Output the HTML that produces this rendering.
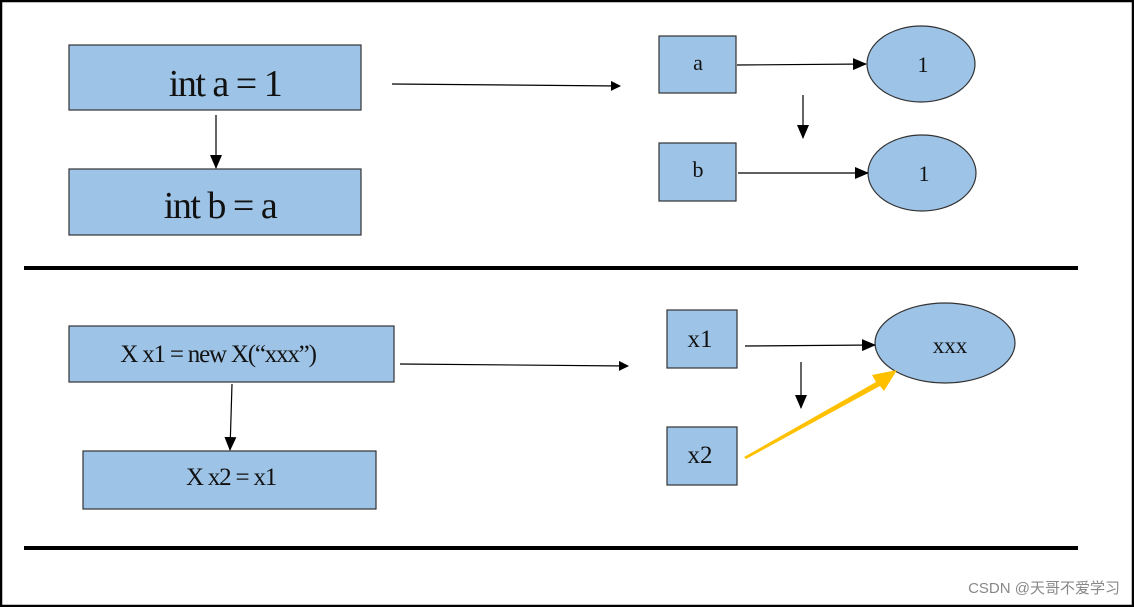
<!DOCTYPE html>
<html><head><meta charset="utf-8"><style>
html,body{margin:0;padding:0;background:#fff;}
svg{display:block;}
.t{font-family:"Liberation Serif","DejaVu Serif",serif;fill:#111;}
</style></head><body>
<svg width="1134" height="607" viewBox="0 0 1134 607" xmlns="http://www.w3.org/2000/svg">
<defs>
<marker id="ah" markerWidth="10" markerHeight="10" refX="9" refY="5" orient="auto" markerUnits="userSpaceOnUse">
<path d="M0,0 L10,5 L0,10 Z" fill="#000"/></marker>
<marker id="ah2" markerWidth="14" markerHeight="12" refX="13" refY="6" orient="auto" markerUnits="userSpaceOnUse">
<path d="M0,0 L14,6 L0,12 Z" fill="#000"/></marker>
</defs>
<rect x="1" y="1" width="1132" height="605" fill="#fff" stroke="#000" stroke-width="2.5"/>
<g fill="#9dc3e6" stroke="#333" stroke-width="1.2">
<rect x="69" y="45" width="292" height="65"/>
<rect x="69" y="169" width="292" height="66"/>
<rect x="659" y="36" width="77" height="57"/>
<rect x="659" y="143" width="77" height="58"/>
<ellipse cx="921" cy="64" rx="54" ry="38"/>
<ellipse cx="922" cy="173" rx="54" ry="38"/>
<rect x="69" y="326" width="325" height="56"/>
<rect x="83" y="451" width="293" height="58"/>
<rect x="667" y="310" width="70" height="58"/>
<rect x="667" y="427" width="70" height="58"/>
<ellipse cx="945" cy="343" rx="70" ry="40"/>
</g>
<g stroke="#000" stroke-width="1.2" fill="none">
<line x1="216" y1="115" x2="216" y2="168" marker-end="url(#ah2)"/>
<line x1="392" y1="84" x2="620" y2="86" marker-end="url(#ah)"/>
<line x1="737" y1="65" x2="866" y2="64" marker-end="url(#ah2)"/>
<line x1="803" y1="95" x2="803" y2="138" marker-end="url(#ah2)"/>
<line x1="738" y1="173" x2="868" y2="173" marker-end="url(#ah2)"/>
<line x1="400" y1="364" x2="628" y2="366" marker-end="url(#ah)"/>
<line x1="232" y1="384" x2="230" y2="450" marker-end="url(#ah2)"/>
<line x1="745" y1="346" x2="875" y2="345" marker-end="url(#ah2)"/>
<line x1="801" y1="362" x2="801" y2="408" marker-end="url(#ah2)"/>
</g>
<polygon points="744,457 876,382 872,375 897,370 884,391 880,386 746,459" fill="#ffc000"/>
<rect x="24" y="266" width="1054" height="4" fill="#000"/>
<rect x="24" y="546" width="1054" height="4" fill="#000"/>
<g class="t" text-anchor="middle">
<text x="225" y="96" font-size="38" letter-spacing="-1.5">int a = 1</text>
<text x="220" y="218" font-size="38" letter-spacing="-1.5">int b = a</text>
<text x="698" y="70" font-size="22">a</text>
<text x="698" y="177" font-size="22">b</text>
<text x="923" y="72" font-size="22">1</text>
<text x="924" y="181" font-size="22">1</text>
<text x="218" y="362" font-size="25" letter-spacing="-1.2">X x1 = new X(“xxx”)</text>
<text x="231" y="485" font-size="25" letter-spacing="-1.2">X x2 = x1</text>
<text x="700" y="347" font-size="25">x1</text>
<text x="700" y="463" font-size="25">x2</text>
<text x="950" y="353" font-size="23">xxx</text>
</g>
<text x="1120" y="593" text-anchor="end" style="font-family:'Liberation Sans','Noto Sans CJK SC',sans-serif" font-size="15" fill="#888">CSDN @天哥不爱学习</text>
</svg>
</body></html>
